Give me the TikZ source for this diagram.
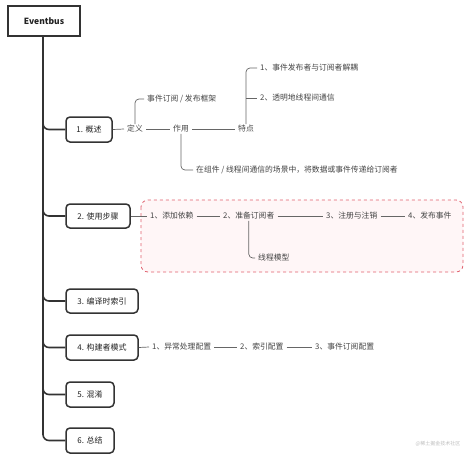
\documentclass[tikz,border=0pt]{standalone}
\usepackage{fontspec}
\setmainfont{Noto Sans CJK SC}
\definecolor{ink}{HTML}{333333}
\definecolor{boxtxt}{HTML}{222222}
\definecolor{txt}{HTML}{444444}
\definecolor{thin}{HTML}{666666}
\definecolor{dred}{HTML}{E0606E}
\definecolor{pinkbg}{HTML}{FFF6F7}
\begin{document}
\begin{tikzpicture}[x=1pt,y=-1pt,
  box/.style={draw=ink,line width=1.5pt,rounded corners=4pt,font=\fontsize{8}{9}\selectfont,text=boxtxt,inner sep=0pt},
  lbl/.style={font=\fontsize{7.8}{9}\selectfont,text=txt,inner sep=3pt,anchor=west},
  trunk/.style={draw=ink,line width=1.6pt,rounded corners=6pt},
  con/.style={draw=thin,line width=0.7pt,rounded corners=4pt}]
\useasboundingbox[fill=white] (0,0) rectangle (474,459);
% dashed highlight
\draw[dred,dashed,line width=0.8pt,fill=pinkbg,rounded corners=7pt] (141,200) rectangle (463,272);
% main boxes
\node[box,rounded corners=0pt,minimum width=72pt,minimum height=30pt,font=\fontsize{8.5}{10}\selectfont\bfseries] (root) at (44,21) {Eventbus};
\node[box,minimum width=46pt,minimum height=25pt] (b1) at (89,129.5) {1. 概述};
\node[box,minimum width=64pt,minimum height=24pt] (b2) at (98,216) {2. 使用步骤};
\node[box,minimum width=72pt,minimum height=24pt] (b3) at (102,301) {3. 编译时索引};
\node[box,minimum width=72pt,minimum height=25pt] (b4) at (102,347.5) {4. 构建者模式};
\node[box,minimum width=48pt,minimum height=25pt] (b5) at (90,394.5) {5. 混淆};
\node[box,minimum width=48pt,minimum height=25pt] (b6) at (90,440.5) {6. 总结};
% trunk
\coordinate (tk) at (43,36);
\foreach \b in {b1,b2,b3,b4,b5,b6}{
  \draw[trunk] (tk) |- (\b.west);
}
% branch 1
\node[lbl] (dy) at (124,129) {定义};
\node[lbl] (zy) at (170,129) {作用};
\node[lbl] (td) at (235,129) {特点};
\node[lbl] (kj) at (144,99) {事件订阅 / 发布框架};
\node[lbl] (t1) at (257,68) {1、事件发布者与订阅者解耦};
\node[lbl] (t2) at (257,98) {2、透明地线程间通信};
\node[lbl] (cj) at (193,170) {在组件 / 线程间通信的场景中，将数据或事件传递给订阅者};
\draw[con] (b1.east) -- (dy.west);
\draw[con] (dy.east) -- (zy.west);
\draw[con] (zy.east) -- (td.west);
\draw[con] ([yshift=-2pt]dy.north) |- (kj.west);
\draw[con] ([yshift=-2pt]td.north) |- (t1.west);
\draw[con] (td.north |- t2.west) -- (t2.west);
\draw[con] ([yshift=2pt]zy.south) |- (cj.west);
% branch 2
\node[lbl] (s1) at (147,216) {1、添加依赖};
\node[lbl] (s2) at (220,216) {2、准备订阅者};
\node[lbl] (s3) at (323,216) {3、注册与注销};
\node[lbl] (s4) at (405,216) {4、发布事件};
\node[lbl] (mx) at (255,258) {线程模型};
\draw[con] (b2.east) -- (s1.west);
\draw[con] (s1.east) -- (s2.west);
\draw[con] (s2.east) -- (s3.west);
\draw[con] (s3.east) -- (s4.west);
\draw[con] ([yshift=2pt]s2.south) |- (mx.west);
% branch 4
\node[lbl] (r1) at (149,347) {1、异常处理配置};
\node[lbl] (r2) at (237,347) {2、索引配置};
\node[lbl] (r3) at (312,347) {3、事件订阅配置};
\draw[con] (b4.east) -- (r1.west);
\draw[con] (r1.east) -- (r2.west);
\draw[con] (r2.east) -- (r3.west);
% watermark
\node[font=\fontsize{5}{6}\selectfont,text=black!25,inner sep=0pt] (wm) at (438,444) {@稀土掘金技术社区};
\end{tikzpicture}
\end{document}
